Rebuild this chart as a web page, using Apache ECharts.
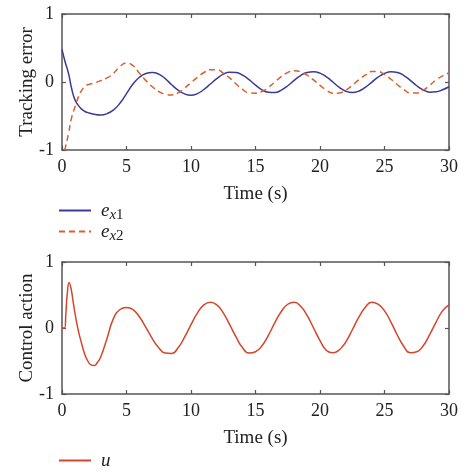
<!DOCTYPE html>
<html>
<head>
<meta charset="utf-8">
<script src="https://cdn.jsdelivr.net/npm/echarts@6/dist/echarts.min.js"></script>
<style>html,body{margin:0;padding:0;background:#fff;}#c{width:474px;height:474px;}</style>
</head>
<body>
<div id="c"></div>
<script>
// Time samples for the tracking errors (s)
var tE = [0,0.25,0.5,0.75,1,1.25,1.5,1.75,2,2.5,3,3.5,4,4.5,5,5.5,6,6.5,7,7.5,8,8.5,9,9.5,10,10.5,11,11.5,12,12.5,13,13.5,14,14.5,15,15.5,16,16.5,17,17.5,18,18.5,19,19.5,20,20.5,21,21.5,22,22.5,23,23.5,24,24.5,25,25.5,26,26.5,27,27.5,28,28.5,29,29.5,30];
var ex1 = [0.48,0.29,0.13,-0.10,-0.26,-0.34,-0.395,-0.43,-0.45,-0.475,-0.485,-0.465,-0.41,-0.31,-0.17,-0.03,0.07,0.125,0.14,0.115,0.05,-0.04,-0.12,-0.175,-0.195,-0.17,-0.11,-0.03,0.05,0.115,0.145,0.14,0.10,0.035,-0.045,-0.115,-0.15,-0.155,-0.12,-0.055,0.025,0.095,0.14,0.15,0.13,0.075,0.0,-0.08,-0.135,-0.155,-0.135,-0.08,-0.005,0.07,0.125,0.15,0.14,0.095,0.025,-0.055,-0.115,-0.15,-0.145,-0.115,-0.07];
var ex2 = [-1.15,-0.97,-0.76,-0.52,-0.37,-0.23,-0.13,-0.07,-0.04,-0.015,0.02,0.06,0.13,0.23,0.28,0.24,0.13,0.02,-0.07,-0.14,-0.18,-0.19,-0.16,-0.09,-0.01,0.07,0.14,0.18,0.18,0.13,0.06,-0.03,-0.11,-0.16,-0.165,-0.14,-0.08,0.0,0.08,0.14,0.165,0.15,0.10,0.03,-0.05,-0.12,-0.165,-0.16,-0.12,-0.05,0.03,0.10,0.155,0.155,0.11,0.04,-0.04,-0.11,-0.16,-0.16,-0.12,-0.05,0.03,0.09,0.135];
// Time samples for the control action (s)
var tU = [0,0.2,0.3,0.4,0.55,0.7,0.9,1.1,1.3,1.5,1.75,2,2.25,2.5,2.75,3,3.5,4,4.5,5,5.5,6,6.5,7,7.5,8,8.5,9,9.5,10,10.5,11,11.5,12,12.5,13,13.5,14,14.5,15,15.5,16,16.5,17,17.5,18,18.5,19,19.5,20,20.5,21,21.5,22,22.5,23,23.5,24,24.5,25,25.5,26,26.5,27,27.5,28,28.5,29,29.5,30];
var u = [0,0.0,0.22,0.5,0.69,0.6,0.35,0.12,-0.07,-0.22,-0.39,-0.5,-0.56,-0.57,-0.52,-0.44,-0.15,0.15,0.28,0.31,0.28,0.17,0.01,-0.16,-0.3,-0.38,-0.385,-0.3,-0.14,0.05,0.23,0.35,0.39,0.35,0.23,0.05,-0.14,-0.3,-0.38,-0.36,-0.27,-0.11,0.08,0.25,0.36,0.39,0.33,0.19,0.0,-0.19,-0.34,-0.375,-0.33,-0.21,-0.03,0.16,0.31,0.39,0.36,0.26,0.09,-0.11,-0.28,-0.375,-0.36,-0.27,-0.1,0.09,0.26,0.35];
var xTicks = [0,5,10,15,20,25,30];
var yTicks = [-1,0,1];
var xName = 'Time (s)';
var yNames = ['Tracking error','Control action'];
var seriesNames = ['ex1','ex2','u'];

function pairs(t, v){ return t.map(function(x,i){ return [x, v[i]]; }); }

var FONT = 'Liberation Serif';
var AX = '#555';
var chart = echarts.init(document.getElementById('c'), null, {renderer:'canvas'});

function xAx(grid, pos, labels){
  return {
    type:'value', gridIndex:grid, position:pos, min:xTicks[0], max:xTicks[xTicks.length-1], interval:5,
    name: labels ? xName : '', nameLocation:'middle', nameGap:35, nameMoveOverlap:false,
    nameTextStyle:{fontFamily:FONT, fontSize:19, color:'#222'},
    axisLine:{show:true, onZero:false, lineStyle:{color:AX, width:1.5}},
    axisTick:{show:true, inside:true, length:4, lineStyle:{color:AX, width:1.2}},
    axisLabel:{show:labels, fontFamily:FONT, fontSize:18, color:'#222', margin:8},
    splitLine:{show:false}
  };
}
function yAx(grid, pos, labels, name){
  return {
    type:'value', gridIndex:grid, position:pos, min:yTicks[0], max:yTicks[yTicks.length-1], interval:1,
    name: labels ? name : '', nameLocation:'middle', nameGap:25, nameMoveOverlap:false,
    nameTextStyle:{fontFamily:FONT, fontSize:19, color:'#222'},
    axisLine:{show:true, onZero:false, lineStyle:{color:AX, width:1.5}},
    axisTick:{show:true, inside:true, length:4, lineStyle:{color:AX, width:1.2}},
    axisLabel:{show:labels, fontFamily:FONT, fontSize:18, color:'#222', margin:8},
    splitLine:{show:false}
  };
}

var rich = {
  e:{fontFamily:FONT, fontStyle:'italic', fontSize:19, color:'#222', padding:[0,0,0,5]},
  x:{fontFamily:FONT, fontStyle:'italic', fontSize:15, color:'#222', padding:[10,0,0,0]},
  n:{fontFamily:FONT, fontSize:15, color:'#222', padding:[10,0,0,0]}
};

var option = {
  animation:false,
  backgroundColor:'#fff',
  grid:[
    {left:62, top:14, width:387, height:136},
    {left:62, top:262, width:387, height:132}
  ],
  xAxis:[ xAx(0,'bottom',true), xAx(0,'top',false), xAx(1,'bottom',true), xAx(1,'top',false) ],
  yAxis:[ yAx(0,'left',true,yNames[0]), yAx(0,'right',false,''), yAx(1,'left',true,yNames[1]), yAx(1,'right',false,'') ],
  legend:[
    {data:[seriesNames[0], seriesNames[1]], orient:'vertical', left:58, top:201, padding:0, itemWidth:32, itemHeight:10, itemGap:-1,
     itemStyle:{opacity:0},
     formatter:function(n){ return n==='ex1' ? '{e|e}{x|x}{n|1}' : '{e|e}{x|x}{n|2}'; },
     textStyle:{rich:rich}},
    {data:[seriesNames[2]], orient:'vertical', left:58, top:451, padding:0, itemWidth:32, itemHeight:10,
     itemStyle:{opacity:0},
     formatter:function(){ return '{e|u}'; }, textStyle:{rich:rich}}
  ],
  series:[
    {name:seriesNames[0], type:'line', xAxisIndex:0, yAxisIndex:0, data:pairs(tE, ex1), smooth:0.5, symbol:'none',
     lineStyle:{color:'#3a3b96', width:1.5}, itemStyle:{color:'#3a3b96'}},
    {name:seriesNames[1], type:'line', xAxisIndex:0, yAxisIndex:0, data:pairs(tE, ex2), smooth:0.5, symbol:'none',
     lineStyle:{color:'#d9602e', width:1.5, type:[6,4]}, itemStyle:{color:'#d9602e'}},
    {name:seriesNames[2], type:'line', xAxisIndex:2, yAxisIndex:2, data:pairs(tU, u), smooth:0.5, symbol:'none',
     lineStyle:{color:'#d4452a', width:1.5}, itemStyle:{color:'#d4452a'}}
  ]
};
chart.setOption(option);
</script>
</body>
</html>
